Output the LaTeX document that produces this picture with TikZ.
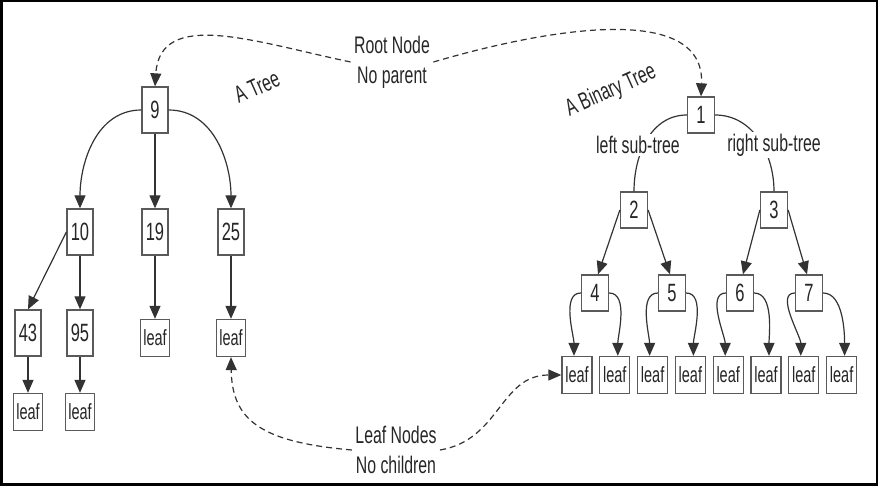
\documentclass[tikz,border=0pt]{standalone}
\usepackage{fontspec}
\setmainfont{Liberation Sans}[FakeStretch=0.66]
\usepackage{tikz}
\usetikzlibrary{arrows.meta,positioning}
\definecolor{TreeLine}{HTML}{333333}
\definecolor{TreeBox}{HTML}{5A5A5A}
\definecolor{TreeText}{HTML}{262626}

\begin{document}
\begin{tikzpicture}[x=1pt,y=1pt,
  box/.style={draw=TreeBox,fill=white,line width=1.3pt,inner sep=0pt,text=TreeText,minimum width=26pt,minimum height=46pt,font=\fontsize{25}{27}\selectfont},
  bbox/.style={box,minimum width=27pt,minimum height=36pt},
  leafbox/.style={box,minimum width=30pt,minimum height=37pt,font=\fontsize{22}{24}\selectfont},
  link/.style={draw=TreeLine,line width=1.2pt},
  arr/.style={link,-{Triangle[length=13pt,width=11pt]}},
  hint/.style={link,dash pattern=on 6pt off 4pt,-{Triangle[length=13pt,width=11pt]}},
  note/.style={align=center,text=TreeText,font=\fontsize{24}{30}\selectfont},
]
\useasboundingbox (0,0) rectangle (879,-486);
\draw[line width=2.5pt] (1.25,-1.25) rectangle (877,-484.5);

% a tree
\node[box] (t9) at (155,-110) {9};
\node[box] (t10) at (80,-232) {10};
\node[box] (t19) at (155,-232) {19};
\node[box] (t25) at (231,-232) {25};
\node[box] (t43) at (28,-333) {43};
\node[box] (t95) at (80,-333) {95};
\node[leafbox,minimum width=29pt] (t19l) at (155,-338) {leaf};
\node[leafbox,minimum width=29pt] (t25l) at (231,-338) {leaf};
\node[leafbox,minimum width=29pt] (t43l) at (28,-412) {leaf};
\node[leafbox,minimum width=29pt] (t95l) at (80,-412) {leaf};

\draw[arr] (t9.west) to[out=180,in=90] (t10.north);
\draw[arr] (t9) -- (t19);
\draw[arr] (t9.east) to[out=0,in=90] (t25.north);
\draw[arr] (t10.west) -- (t43.north);
\draw[arr] (t10) -- (t95);
\draw[arr] (t19) -- (t19l);
\draw[arr] (t25) -- (t25l);
\draw[arr] (t43) -- (t43l);
\draw[arr] (t95) -- (t95l);

% a binary tree
\node[bbox] (b1) at (701,-115) {1};
\node[bbox] (b2) at (634,-210) {2};
\node[bbox] (b3) at (774,-210) {3};
\node[bbox] (b4) at (595,-293) {4};
\node[bbox] (b5) at (672,-293) {5};
\node[bbox] (b6) at (740,-293) {6};
\node[bbox] (b7) at (809,-293) {7};
\node[leafbox] (lf1) at (577,-375) {leaf};
\node[leafbox,right=6.5pt of lf1] (lf2) {leaf};
\node[leafbox,right=6.5pt of lf2] (lf3) {leaf};
\node[leafbox,right=6.5pt of lf3] (lf4) {leaf};
\node[leafbox,right=6.5pt of lf4] (lf5) {leaf};
\node[leafbox,right=6.5pt of lf5] (lf6) {leaf};
\node[leafbox,right=6.5pt of lf6] (lf7) {leaf};
\node[leafbox,right=6.5pt of lf7] (lf8) {leaf};

\draw[link] (b1.west) to[out=180,in=90] (b2.north);
\draw[link] (b1.east) to[out=0,in=90] (b3.north);
\node[note,fill=white,inner sep=2pt] (lsub) at (638,-145) {left sub-tree};
\node[note,fill=white,inner sep=2pt] (rsub) at (774,-145) {right sub-tree};
\draw[arr] (b2.west) -- ([xshift=3pt]b4.north);
\draw[arr] (b2.east) -- ([xshift=-2pt]b5.north);
\draw[arr] (b3.west) -- ([xshift=3pt]b6.north);
\draw[arr] (b3.east) -- ([xshift=-2pt]b7.north);
\draw[arr] (b4.west) to[out=180,in=90,looseness=0.8] ([xshift=-3pt]lf1.north);
\draw[arr] (b4.east) to[out=0,in=90,looseness=0.8] ([xshift=3pt]lf2.north);
\draw[arr] (b5.west) to[out=180,in=90,looseness=0.8] ([xshift=-3pt]lf3.north);
\draw[arr] (b5.east) to[out=0,in=90,looseness=0.8] ([xshift=3pt]lf4.north);
\draw[arr] (b6.west) to[out=180,in=90,looseness=0.8] ([xshift=-3pt]lf5.north);
\draw[arr] (b6.east) to[out=0,in=90,looseness=0.8] ([xshift=3pt]lf6.north);
\draw[arr] (b7.west) to[out=180,in=90,looseness=0.8] ([xshift=-3pt]lf7.north);
\draw[arr] (b7.east) to[out=0,in=90,looseness=0.8] ([xshift=3pt]lf8.north);

% labels
\node[note,rotate=24,inner sep=0pt] (treelbl) at (257,-87) {A Tree};
\node[note,rotate=24,inner sep=0pt] (btreelbl) at (611,-91) {A Binary Tree};
\node[note] (root) at (392,-62) {Root Node\\No parent};
\node[note] (leaves) at (396,-450) {Leaf Nodes\\No children};

\draw[hint] (root.west) .. controls (255,-42) and (160,-8) .. (t9.north);
\draw[hint] (root.east) .. controls (560,-25) and (705,-5) .. (b1.north);
\draw[hint] (leaves.west) .. controls (260,-442) and (232,-420) .. (t25l.south);
\draw[hint] (leaves.east) .. controls (500,-440) and (500,-375) .. (lf1.west);
\end{tikzpicture}
\end{document}
